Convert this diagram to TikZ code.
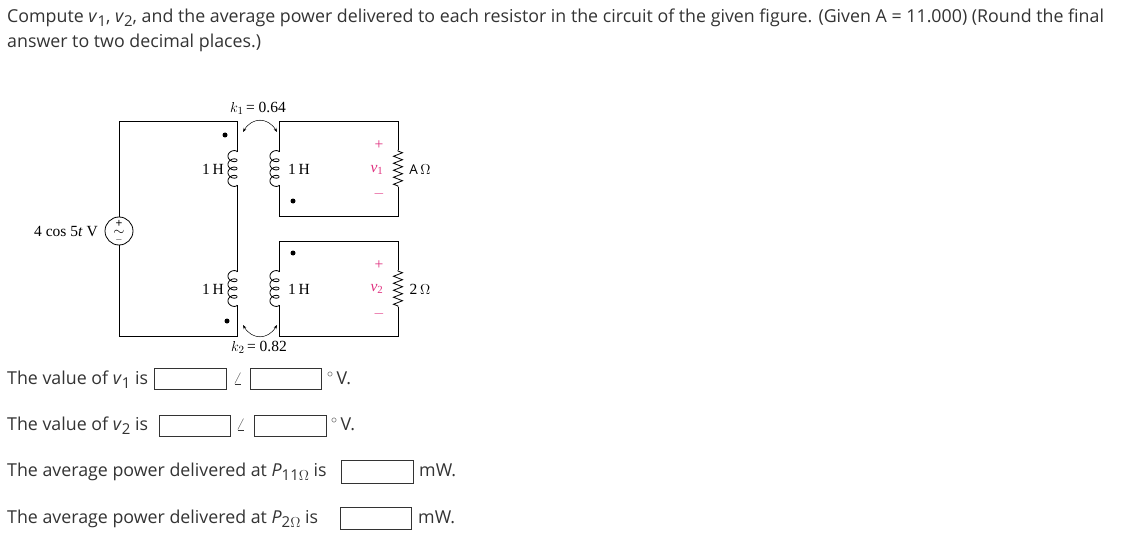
\documentclass[tikz,border=0pt]{standalone}
\usepackage{fontspec}
\setmainfont{Open Sans}
\newfontfamily\cserif{Liberation Serif}
\usetikzlibrary{decorations.pathmorphing,arrows.meta}
\definecolor{txt}{HTML}{333333}
\definecolor{mag}{HTML}{E0307F}
\newcommand{\lowsub}[1]{\raisebox{-4pt}{\fontsize{15}{15}\selectfont #1}}
\begin{document}
\begin{tikzpicture}[x=1pt,y=-1pt,
  q/.style={anchor=base west,inner sep=0,text=txt,font=\fontsize{17.8}{20}\selectfont},
  box/.style={draw=black!80,line width=0.8pt},
  c/.style={inner sep=0,font=\cserif\fontsize{15.5}{18}\selectfont},
  pm/.style={inner sep=0,text=mag,font=\cserif\fontsize{15.5}{16}\selectfont},
  dot/.style={circle,fill=black,inner sep=0,minimum size=5pt},
  w/.style={line width=0.8pt},
  res/.style={w,decorate,decoration={zigzag,segment length=7pt,amplitude=4.5pt,pre length=1pt,post length=1pt}}]
\useasboundingbox (0,0) rectangle (1126,540);
\fill[white] (0,0) rectangle (1126,540);
% header
\node[q] (h1) at (7,23) {Compute \textit{v}\lowsub{1}, \textit{v}\lowsub{2}, and the average power delivered to each resistor in the circuit of the given figure. (Given A = 11.000) (Round the final};
\node[q] (h2) at (7,48) {answer to two decimal places.)};
% circuit coordinates
\coordinate (tl) at (119,121); \coordinate (bl) at (119,336);
\coordinate (pt) at (237,121); \coordinate (pb) at (237,336);
\coordinate (c1a) at (237,152); \coordinate (c1b) at (237,185);
\coordinate (c2a) at (237,272); \coordinate (c2b) at (237,305);
\coordinate (s1t) at (279,121); \coordinate (s1b) at (279,216);
\coordinate (s1ca) at (279,152); \coordinate (s1cb) at (279,185);
\coordinate (r1t) at (398,121); \coordinate (r1b) at (398,216);
\coordinate (r1a) at (398,150); \coordinate (r1e) at (398,187);
\coordinate (s2t) at (279,241); \coordinate (s2b) at (279,336);
\coordinate (s2ca) at (279,272); \coordinate (s2cb) at (279,305);
\coordinate (r2t) at (398,241); \coordinate (r2b) at (398,336);
\coordinate (r2a) at (398,270); \coordinate (r2e) at (398,307);
\node[circle,draw,w,minimum size=28pt,inner sep=0] (src) at (119,231) {};
\node[inner sep=0,font=\fontsize{12}{12}\selectfont] (sp) at (119,223.5) {+};
\node[inner sep=0,font=\fontsize{14}{14}\selectfont] (st) at (119,232.5) {$\sim$};
\node[inner sep=0,font=\fontsize{9}{9}\selectfont] (sm) at (119,240) {$-$};
% wires
\draw[w] (src.north) -- (tl) -- (pt) -- (c1a);
\draw[w] (c1b) -- (c2a);
\draw[w] (c2b) -- (pb) -- (bl) -- (src.south);
\draw[w] (s1ca) -- (s1t) -- (r1t) -- (r1a);
\draw[w] (s1cb) -- (s1b) -- (r1b) -- (r1e);
\draw[w] (s2ca) -- (s2t) -- (r2t) -- (r2a);
\draw[w] (s2cb) -- (s2b) -- (r2b) -- (r2e);
\draw[res] (r1a) -- (r1e);
\draw[res] (r2a) -- (r2e);
% coils
\foreach \xx/\yy in {237/152,237/272,279/152,279/272}{
  \draw[w,smooth,samples=160,domain=0:25.13] plot ({\xx-4.5+4.5*cos(\x r)},{\yy+1.313*\x-3.2*sin(\x r)});
}
% dots
\node[dot] (d1) at (225,135) {};
\node[dot] (d2) at (293,201) {};
\node[dot] (d3) at (293,253) {};
\node[dot] (d4) at (227,321) {};
% coupling arcs
\coordinate (a1) at (243,132); \coordinate (a2) at (277,132);
\coordinate (b1) at (243,325); \coordinate (b2) at (277,325);
\draw[line width=0.5pt,{Stealth[length=4pt]}-{Stealth[length=4pt]}] (a1) .. controls (252,117) and (268,117) .. (a2);
\draw[line width=0.5pt,{Stealth[length=4pt]}-{Stealth[length=4pt]}] (b1) .. controls (252,340) and (268,340) .. (b2);
% labels
\node[c] (k1) at (258,108) {$k_1$\,= 0.64};
\node[c] (k2) at (259,347) {$k_2$\,= 0.82};
\node[c] (L1) at (213,169) {1\,H};
\node[c] (L2) at (299,169) {1\,H};
\node[c] (L3) at (213,289) {1\,H};
\node[c] (L4) at (299,289) {1\,H};
\node[c] (vs) at (66,232) {4 cos 5\textit{t} V};
\node[c] (R1) at (420,170) {{\fontspec{Open Sans}\fontsize{13.5}{14}\selectfont A}\,$\Omega$};
\node[c] (R2) at (420,289) {2\,$\Omega$};
\node[pm] (p1) at (379,145) {+}; \node[pm] (v1) at (377,170) {\textit{v}\textsubscript{1}}; \node[pm] (m1) at (379,194) {$-$};
\node[pm] (p2) at (379,265) {+}; \node[pm] (v2) at (377,289) {\textit{v}\textsubscript{2}}; \node[pm] (m2) at (379,314) {$-$};
% questions
\node[q] (q1) at (7,384) {The value of \textit{v}\lowsub{1} is};
\draw[box] (154,368) rectangle (226,389);
\node[q] (g1) at (233,384) {$\angle$};
\draw[box] (250,368) rectangle (321,389);
\node[q] (u1) at (327,384) {$^\circ$\,V.};
\node[q] (q2) at (7,430) {The value of \textit{v}\lowsub{2} is};
\draw[box] (159,415) rectangle (230,436);
\node[q] (g2) at (236,430) {$\angle$};
\draw[box] (254,415) rectangle (326,436);
\node[q] (u2) at (331,430) {$^\circ$\,V.};
\node[q] (q3) at (7,476) {The average power delivered at \textit{P}\lowsub{11$\Omega$} is};
\draw[box] (341,460) rectangle (413,483);
\node[q] (u3) at (419,476) {mW.};
\node[q] (q4) at (7,523) {The average power delivered at \textit{P}\lowsub{2$\Omega$} is};
\draw[box] (340,507) rectangle (411,529);
\node[q] (u4) at (418,523) {mW.};
\end{tikzpicture}
\end{document}
